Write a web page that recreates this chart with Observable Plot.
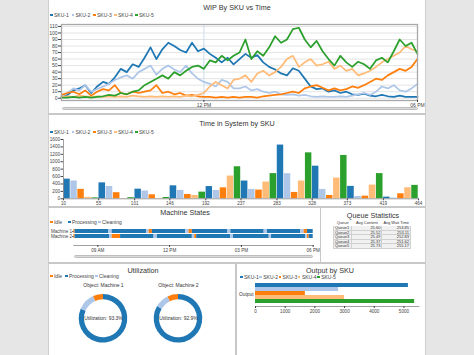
<!DOCTYPE html>
<html><head><meta charset="utf-8">
<script src="https://cdn.jsdelivr.net/npm/d3@7"></script>
<script src="https://cdn.jsdelivr.net/npm/@observablehq/plot@0.6"></script>
<style>
body{margin:0;background:#e6e6e6;font-family:"Liberation Sans",Arial,sans-serif;}
#root{position:relative;width:474px;height:355px;overflow:hidden;background:#e6e6e6;}
.panel{position:absolute;left:48px;width:378px;top:0;height:355px;background:#fff;border-left:1px solid #cfcfcf;border-right:1px solid #cfcfcf;box-sizing:border-box;}
.sep{position:absolute;background:#c8c8c8;}
.title{position:absolute;font-size:7.2px;color:#333;transform:translate(-50%,-50%);white-space:nowrap;}
.legend{position:absolute;font-size:5px;color:#444;white-space:nowrap;transform:translateY(-50%);display:flex;line-height:6px;}
.legend span{display:inline-flex;align-items:center;}
.legend i{display:inline-block;width:2.6px;height:2.6px;margin-right:1.4px;}
.scroll{position:absolute;background:#dcdcdc;border:0.6px solid #bdbdbd;border-radius:2px;box-sizing:border-box;}
#qtable{position:absolute;left:333px;top:220.4px;border-collapse:collapse;font-size:4px;color:#333;table-layout:fixed;}
#qtable td,#qtable th{border:0.6px solid #d0d0d0;background:#f1f1f1;height:3.6px;padding:0 1px;line-height:3.6px;font-weight:normal;white-space:nowrap;overflow:visible;}
#qtable th{background:#fff;border-color:#fff;text-align:center;}
</style>
</head><body>
<div id="root">
  <div class="panel"></div>
</div>
<script>
// ---------- data ----------
const skus = ["SKU-1","SKU-2","SKU-3","SKU-4","SKU-5"];
const skuColors = ["#1f77b4","#aec7e8","#ff7f0e","#ffbb78","#2ca02c"];
const states = ["Idle","Processing","Cleaning"];
const stateColors = ["#ff7f0e","#1f77b4","#aec7e8"];
const machines = ["Machine 1","Machine 2"];

// WIP by SKU, one value every 10 minutes from 08:00 to 18:00
const wipSku1 = [2,5,12,15,20,8,18,25,22,32, 45,40,52,48,62,78,60,75,85,80, 74,70,85,72,76,68,62,55,62,52, 60,68,62,66,55,48,44,38,35,46, 42,30,18,14,15,10,12,8,10,6, 5,7,4,3,5,3,2,4,2,2, 2];
const wipSku2 = [3,8,15,12,20,10,14,18,22,28, 32,35,30,40,45,50,36,45,50,44, 40,50,38,30,25,22,18,28,25,15, 15,18,12,14,10,8,10,6,5,6, 4,5,3,2,3,2,2,3,2,4, 6,8,5,10,18,15,20,12,10,15, 22];
const wipSku3 = [5,8,10,6,12,4,10,14,12,20, 8,6,10,8,10,12,20,8,10,6, 8,4,5,3,2,2,1,2,1,2, 1,2,2,1,3,4,5,6,8,10, 8,15,18,20,16,12,15,12,14,18, 16,20,25,30,28,35,40,45,42,48, 60];
const wipSku4 = [2,3,2,4,3,2,3,2,3,2, 3,2,4,3,2,3,2,3,2,3, 2,4,3,5,8,18,25,20,15,28, 30,35,25,38,42,35,40,48,60,65, 48,55,60,50,52,56,45,50,42,45, 35,38,42,48,55,60,65,70,80,75, 72];
const wipSku5 = [1,1,2,1,2,1,2,3,5,4, 8,6,10,12,20,25,30,35,30,40, 35,42,48,50,45,58,55,65,58,65, 70,90,60,72,65,78,95,85,90,106, 108,90,78,88,72,60,50,65,55,48, 56,52,45,58,62,55,72,90,80,85, 68];
const wipYTicks = [0,10,20,30,40,50,60,70,80,90,100,110];
const wipXTickHours = [12, 18];

// Time in System by SKU (histogram bins)
const tisBins = [10,55,101,146,192,237,283,328,373,419,464];
const tisSku1 = [530,430,260,350,330,479,1450,880,335,45];
const tisSku2 = [480,334,210,226,226,253,677,253,63,20];
const tisSku3 = [255,165,108,117,295,235,172,90,72,135];
const tisSku4 = [40,8,8,90,614,452,479,560,370,298];
const tisSku5 = [25,30,36,180,865,680,1240,1170,680,362];
const tisYTicks = [0,200,400,600,800,1000,1200,1400,1600];

// Machine states (hours after 08:00)
const m1Bounds = [0,0.05,1.46,1.6,3.04,3.14,3.28,4.67,4.81,4.95,6.42,6.56,7.95,8.09,9.48,9.62,9.76,10];
const m1States = ["Idle","Processing","Cleaning","Processing","Cleaning","Idle","Processing","Cleaning","Idle","Processing","Cleaning","Processing","Cleaning","Processing","Cleaning","Idle","Processing"];
const m2Bounds = [0,0.05,1.49,1.6,1.95,3.35,3.49,4.95,5.05,5.13,6.55,6.67,8.16,8.26,9.69,9.76,9.83,10];
const m2States = ["Idle","Processing","Cleaning","Idle","Processing","Cleaning","Processing","Cleaning","Idle","Processing","Cleaning","Processing","Cleaning","Processing","Cleaning","Idle","Processing"];
const msTickHours = [9,12,15,18];

// Queue statistics
const queueNames = ["Queue1","Queue2","Queue3","Queue4","Queue5"];
const queueAvgContent = ["25.60","25.52","25.49","25.37","25.73"];
const queueAvgWait = ["253.85","253.11","252.83","251.62","255.17"];

// Utilization
const utilLabel = ["93.3%","92.9%"];
const utilProcessing = [81.5, 83.5];
const utilCleaning = [11.8, 9.4];
const utilIdle = [6.7, 7.1];

// Output by SKU
const outValues = [5150, 2800, 1680, 3000, 5360];
const outTicks = [0,1000,2000,3000,4000,5000];

// ---------- helpers ----------
const root = document.getElementById("root");
const FONT = '"Liberation Sans",Arial,sans-serif';
function hourDate(h){ const d = new Date(2020,0,1,0,0,0,0); d.setTime(d.getTime() + h*3600000); return d; }
const fmtTime = d3.timeFormat("%I %p");
const fmtInt = d3.format("d");
function place(node, left, top){ node.style.position="absolute"; node.style.left=left+"px"; node.style.top=top+"px"; node.style.overflow="visible"; node.style.background="transparent"; root.appendChild(node); }
function div(cls, css, html){ const d=document.createElement("div"); d.className=cls; Object.assign(d.style, css); if(html!==undefined) d.innerHTML=html; root.appendChild(d); return d; }
function title(text, x, y){ div("title", {left:x+"px", top:y+"px"}, text); }
function legend(items, colors, left, top, widths){
  const d = div("legend", {left:left+"px", top:top+"px"});
  items.forEach((t,i)=>{ const s=document.createElement("span"); s.style.width=widths[i]+"px"; s.innerHTML=`<i style="background:${colors[i]}"></i>${t}`; d.appendChild(s); });
}
const baseStyle = {fontSize:"5px", fontFamily:FONT, color:"#444", background:"transparent", overflow:"visible"};

// separators & scrollbars
div("sep", {left:"48px", top:"112.5px", width:"378px", height:"2px"});
div("sep", {left:"48px", top:"206px", width:"378px", height:"1.6px"});
div("sep", {left:"48px", top:"261.8px", width:"378px", height:"1.8px"});
div("sep", {left:"320.2px", top:"207px", width:"1.2px", height:"55px"});
div("sep", {left:"235.4px", top:"263px", width:"1.2px", height:"92px"});
div("scroll", {left:"62px", top:"107.3px", width:"356px", height:"3.2px"});
div("scroll", {left:"73.5px", top:"255.2px", width:"239px", height:"3px"});

// ---------- WIP chart ----------
const wipSeries = [wipSku1, wipSku2, wipSku3, wipSku4, wipSku5];
const wipData = wipSeries.flatMap((arr, s) => arr.map((v, i) => ({sku: skus[s], time: hourDate(8 + i/6), value: v})));
title("WIP By SKU vs Time", 237, 7.4);
legend(skus, skuColors, 50, 15, [21.5,21.5,21,21,21]);
const wip = Plot.plot({
  width: 377, height: 96, marginLeft: 13, marginRight: 8, marginTop: 6, marginBottom: 14,
  style: baseStyle,
  x: {type: "time", domain: [hourDate(8), hourDate(18)]},
  y: {domain: [-3.5, 113]},
  color: {domain: skus, range: skuColors},
  marks: [
    Plot.gridY(wipYTicks, {stroke: "#e4e4e4", strokeOpacity: 1}),
    Plot.gridX(wipXTickHours.slice(0,1).map(hourDate), {stroke: "#cddcec", strokeOpacity: 1}),
    Plot.lineY(wipData, {x: "time", y: "value", z: "sku", stroke: "sku", strokeWidth: 1.75}),
    Plot.frame({stroke: "#a8a8a8", strokeWidth: 1.3}),
    Plot.axisY(wipYTicks, {tickSize: 3, tickPadding: 1, label: null, fontSize: 5, tickFormat: fmtInt}),
    Plot.axisX(wipXTickHours.map(hourDate), {tickSize: 2, tickPadding: 1, label: null, fontSize: 5, tickFormat: fmtTime})
  ]
});
place(wip, 48, 18);

// ---------- Time in System ----------
const tisSeries = [tisSku1, tisSku2, tisSku3, tisSku4, tisSku5];
const tisData = [];
for (let g = 0; g < tisBins.length - 1; g++) {
  const w = (tisBins[g+1] - tisBins[g]) / 5;
  tisSeries.forEach((arr, k) => tisData.push({sku: skus[k], x1: tisBins[g] + k*w, x2: tisBins[g] + (k+1)*w, value: arr[g]}));
}
title("Time in System by SKU", 237, 122.7);
legend(skus, skuColors, 50, 131.8, [21.5,21.5,21,21,21]);
const tis = Plot.plot({
  width: 377, height: 72, marginLeft: 15, marginRight: 7, marginTop: 3, marginBottom: 9.7,
  style: baseStyle,
  x: {domain: [10, 464]},
  y: {domain: [0, 1600]},
  color: {domain: skus, range: skuColors},
  marks: [
    Plot.rectY(tisData, {x1: "x1", x2: "x2", y: "value", fill: "sku", insetLeft: 0.3, insetRight: 0.3}),
    Plot.ruleX([10], {stroke: "#888", strokeWidth: 0.8}),
    Plot.ruleY([0], {stroke: "#888", strokeWidth: 0.8}),
    Plot.axisY(tisYTicks, {tickSize: 2.5, tickPadding: 1, label: null, fontSize: 4.6, tickFormat: fmtInt}),
    Plot.axisX(tisBins, {tickSize: 2, tickPadding: 0.5, label: null, fontSize: 4.6, tickFormat: fmtInt})
  ]
});
place(tis, 48, 136);

// ---------- Machine States ----------
const msData = [];
[[m1Bounds, m1States], [m2Bounds, m2States]].forEach(([b, st], m) => {
  st.forEach((s, i) => msData.push({machine: machines[m], state: s, start: hourDate(8 + b[i]), end: hourDate(8 + b[i+1])}));
});
title("Machine States", 185, 212.3);
legend(states, stateColors, 50, 222, [18, 30, 30]);
const ms = Plot.plot({
  width: 272, height: 32, marginLeft: 25.4, marginRight: 7.3, marginTop: 2.7, marginBottom: 12,
  style: baseStyle,
  x: {type: "time", domain: [hourDate(8), hourDate(18)]},
  y: {domain: machines, range: [2.7, 14.7], padding: 0.28},
  color: {domain: states, range: stateColors},
  marks: [
    Plot.barX(msData, {x1: "start", x2: "end", y: "machine", fill: "state"}),
    Plot.frame({anchor: "bottom", stroke: "#888", strokeWidth: 0.8}),
    Plot.axisY({tickSize: 1.2, tickPadding: 0.6, label: null, fontSize: 4.6}),
    Plot.axisX(msTickHours.map(hourDate), {tickSize: 2, tickPadding: 1.5, label: null, fontSize: 4.6, tickFormat: fmtTime})
  ]
});
place(ms, 48, 225);

// ---------- Queue statistics ----------
title("Queue Statistics", 373, 215);
const tbl = document.createElement("table"); tbl.id = "qtable";
let html = `<colgroup><col style="width:18.4px"><col style="width:30px"><col style="width:26.6px"></colgroup>`;
html += `<tr><th>Queue</th><th>Avg Content</th><th>Avg Wait Time</th></tr>`;
queueNames.forEach((q,i) => { html += `<tr><td>${q}</td><td style="text-align:right">${queueAvgContent[i]}</td><td style="text-align:right">${queueAvgWait[i]}</td></tr>`; });
tbl.innerHTML = html; root.appendChild(tbl);

// ---------- Utilization ----------
title("Utilization", 143, 270.4);
legend(states, stateColors, 50, 276.2, [15, 30, 30]);
const utilData = machines.map((m,i) => ({machine: m, label: utilLabel[i], parts: [
  {state: "Processing", v: utilProcessing[i]}, {state: "Cleaning", v: utilCleaning[i]}, {state: "Idle", v: utilIdle[i]}]}));
const stateColor = d3.scaleOrdinal(states, stateColors);
const util = Plot.plot({
  width: 187, height: 70, marginTop: 6.6, marginBottom: 0, marginLeft: 0, marginRight: 0,
  style: baseStyle,
  x: {type: "point", domain: machines, range: [55.3, 130.3], padding: 0, axis: null},
  marks: [
    (index, scales, values, dims) => {
      const g = d3.create("svg:g");
      const cy = dims.marginTop + (dims.height - dims.marginTop - dims.marginBottom) / 2;
      const arc = d3.arc().innerRadius(19).outerRadius(24.3);
      utilData.forEach(d => {
        const arcs = d3.pie().sort(null).value(p => p.v)(d.parts);
        g.append("g").attr("transform", `translate(${scales.x(d.machine)},${cy})`)
          .selectAll("path").data(arcs).join("path").attr("d", arc).attr("fill", a => stateColor(a.data.state));
      });
      return g.node();
    },
    Plot.text(utilData, {x: "machine", text: d => `Utilization: ${d.label}`, fontSize: 5, fill: "#333"}),
    Plot.text(utilData, {x: "machine", text: d => `Object: ${d.machine}`, dy: -33.3, fontSize: 5, fill: "#333"})
  ]
});
place(util, 48, 280);

// ---------- Output by SKU ----------
title("Output by SKU", 330, 269.8);
legend(skus, skuColors, 240, 277, [19.3,19.3,19.3,19.3,20]);
const outData = skus.map((s,i) => ({sku: s, value: outValues[i]}));
const out = Plot.plot({
  width: 188, height: 37, marginLeft: 18, marginRight: 6.7, marginTop: 4.3, marginBottom: 9,
  style: baseStyle,
  x: {domain: [0, 5500]},
  y: {domain: skus, range: [4.8, 25.3], padding: 0.06, axis: null},
  color: {domain: skus, range: skuColors},
  marks: [
    Plot.barX(outData, {x: "value", y: "sku", fill: "sku"}),
    Plot.frame({anchor: "bottom", stroke: "#888", strokeWidth: 0.8}),
    Plot.axisX(outTicks, {tickSize: 2, tickPadding: 1, label: null, fontSize: 4.6, tickFormat: fmtInt}),
    Plot.text(["Output"], {frameAnchor: "left", dx: -2, textAnchor: "end", fontSize: 4.8, fill: "#333"})
  ]
});
place(out, 237, 278);
</script>
</body></html>
